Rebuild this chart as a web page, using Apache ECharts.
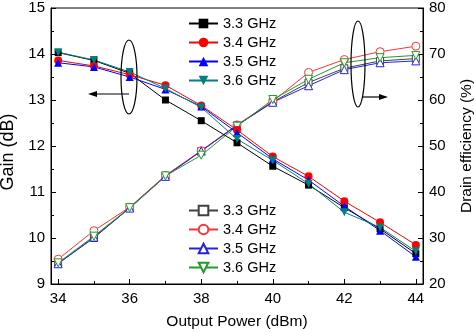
<!DOCTYPE html>
<html><head><meta charset="utf-8">
<script src="https://cdn.jsdelivr.net/npm/echarts@6/dist/echarts.min.js"></script>
<style>html,body{margin:0;padding:0;background:#fff}#c{width:474px;height:332px}</style>
</head><body><div id="c"></div>
<script>
const power = [34, 35, 36, 37, 38, 39, 40, 41, 42, 43, 44];
const freqs = ['3.3', '3.4', '3.5', '3.6'];
const gain33 = [14.03, 13.86, 13.58, 13.00, 12.55, 12.07, 11.56, 11.15, 10.66, 10.20, 9.66];
const gain34 = [13.86, 13.74, 13.55, 13.32, 12.88, 12.35, 11.77, 11.34, 10.80, 10.34, 9.85];
const gain35 = [13.81, 13.72, 13.50, 13.23, 12.86, 12.29, 11.72, 11.26, 10.69, 10.16, 9.59];
const gain36 = [14.04, 13.87, 13.61, 13.25, 12.84, 12.15, 11.69, 11.18, 10.56, 10.23, 9.71];
const eff33 = [24.5, 30.0, 36.6, 43.5, 48.9, 54.5, 59.6, 63.8, 66.9, 68.5, 69.0];
const eff34 = [25.4, 31.6, 36.7, 43.6, 49.0, 54.6, 59.7, 66.0, 68.8, 70.5, 71.7];
const eff35 = [24.4, 30.2, 36.5, 43.4, 48.9, 54.5, 59.5, 63.1, 66.6, 68.1, 68.5];
const eff36 = [24.6, 30.4, 36.6, 43.5, 48.0, 54.3, 60.1, 64.5, 68.1, 69.2, 69.7];
const xTicksMajor = [34, 36, 38, 40, 42, 44];
const xTicksMinor = [35, 37, 39, 41, 43];

const gainColors = ['#000000', '#ff0000', '#0000ff', '#008080'];
const effColors = ['#404040', '#ff3333', '#2222ee', '#22992b'];
const invTri = 'path://M0,0 L10,0 L5,9 Z';
const symbols = ['rect', 'circle', 'triangle', invTri];
const symSizes = [7, 8, 8, 8];

const gains = [gain33, gain34, gain35, gain36];
const effs = [eff33, eff34, eff35, eff36];
const pair = (arr) => power.map((p, i) => [p, arr[i]]);

const series = [];
effs.forEach((d, k) => {
  series.push({
    name: 'e' + freqs[k], type: 'line', xAxisIndex: 0, yAxisIndex: 1,
    data: pair(d), symbol: symbols[k], symbolSize: symSizes[k],
    lineStyle: { color: effColors[k], width: 1 },
    itemStyle: { color: '#fff', borderColor: effColors[k], borderWidth: 1 },
    emphasis: { disabled: true }, animation: false
  });
});
gains.forEach((d, k) => {
  series.push({
    name: 'g' + freqs[k], type: 'line', xAxisIndex: 0, yAxisIndex: 0,
    data: pair(d), symbol: symbols[k], symbolSize: symSizes[k],
    lineStyle: { color: gainColors[k], width: 1 },
    itemStyle: { color: gainColors[k], borderColor: gainColors[k], borderWidth: 0 },
    emphasis: { disabled: true }, animation: false
  });
});

const font = 'Liberation Sans, Arial, sans-serif';
const legendBase = {
  orient: 'vertical', left: 183, itemWidth: 29, itemHeight: 12, itemGap: 4,
  textStyle: { fontFamily: font, fontSize: 14.5, color: '#000' },
  formatter: (n) => n.slice(1) + ' GHz', selectedMode: false
};
const tickFont = { fontFamily: font, fontSize: 15, color: '#000' };

const chart = echarts.init(document.getElementById('c'), null, { renderer: 'canvas' });
chart.setOption({
  animation: false,
  grid: { left: 51, right: 51, top: 8, bottom: 48, containLabel: false, outerBoundsMode: 'none',
          show: true, borderColor: '#000', borderWidth: 1 },
  legend: [
    Object.assign({}, legendBase, { top: 11, data: freqs.map(f => 'g' + f) }),
    Object.assign({}, legendBase, { top: 198, data: freqs.map(f => 'e' + f) })
  ],
  xAxis: [
    {
      type: 'value', min: 33.8, max: 44.2, position: 'bottom',
      name: 'Output Power (dBm)', nameLocation: 'middle', nameGap: 30,
      nameTextStyle: { fontFamily: font, fontSize: 15.5, color: '#000' },
      axisLine: { lineStyle: { color: '#000', width: 1 } },
      axisTick: { inside: true, length: 5, customValues: xTicksMajor, lineStyle: { color: '#000' } },
      axisLabel: Object.assign({ customValues: xTicksMajor, margin: 7 }, tickFont),
      splitLine: { show: false }
    },
    {
      type: 'value', min: 33.8, max: 44.2, position: 'bottom', gridIndex: 0,
      axisLine: { show: false },
      axisTick: { inside: true, length: 3, customValues: xTicksMinor, lineStyle: { color: '#000' } },
      axisLabel: { show: false }, splitLine: { show: false }
    }
  ],
  yAxis: [
    {
      type: 'value', min: 9, max: 15, interval: 1, position: 'left',
      name: 'Gain (dB)', nameLocation: 'middle', nameGap: 32,
      nameTextStyle: { fontFamily: font, fontSize: 18, color: '#000', padding: [0, 12, 0, 0] },
      axisLine: { show: true, lineStyle: { color: '#000', width: 1 } },
      axisTick: { inside: true, length: 5, lineStyle: { color: '#000' } },
      minorTick: { show: true, splitNumber: 2, length: 3, lineStyle: { color: '#000' } },
      axisLabel: Object.assign({ margin: 6 }, tickFont),
      splitLine: { show: false }
    },
    {
      type: 'value', min: 20, max: 80, interval: 10, position: 'right',
      name: 'Drain efficiency (%)', nameLocation: 'middle', nameGap: 36,
      nameTextStyle: { fontFamily: font, fontSize: 15.5, color: '#000' },
      axisLine: { show: true, lineStyle: { color: '#000', width: 1 } },
      axisTick: { inside: true, length: 5, lineStyle: { color: '#000' } },
      minorTick: { show: true, splitNumber: 2, length: 3, lineStyle: { color: '#000' } },
      axisLabel: Object.assign({ margin: 6 }, tickFont),
      splitLine: { show: false }
    }
  ],
  graphic: [
    { type: 'ellipse', shape: { cx: 129, cy: 77, rx: 8, ry: 37 }, style: { fill: 'none', stroke: '#000', lineWidth: 1.2 }, z: 100 },
    { type: 'line', shape: { x1: 129, y1: 94, x2: 95, y2: 94 }, style: { stroke: '#000', lineWidth: 1.2 }, z: 100 },
    { type: 'polygon', shape: { points: [[88, 94], [97, 91], [97, 97]] }, style: { fill: '#000' }, z: 100 },
    { type: 'ellipse', shape: { cx: 358, cy: 64, rx: 7, ry: 43 }, style: { fill: 'none', stroke: '#000', lineWidth: 1.2 }, z: 100 },
    { type: 'line', shape: { x1: 362, y1: 97, x2: 381, y2: 97 }, style: { stroke: '#000', lineWidth: 1.2 }, z: 100 },
    { type: 'polygon', shape: { points: [[388, 97], [379, 94], [379, 100]] }, style: { fill: '#000' }, z: 100 }
  ],
  series: series
});
</script></body></html>
